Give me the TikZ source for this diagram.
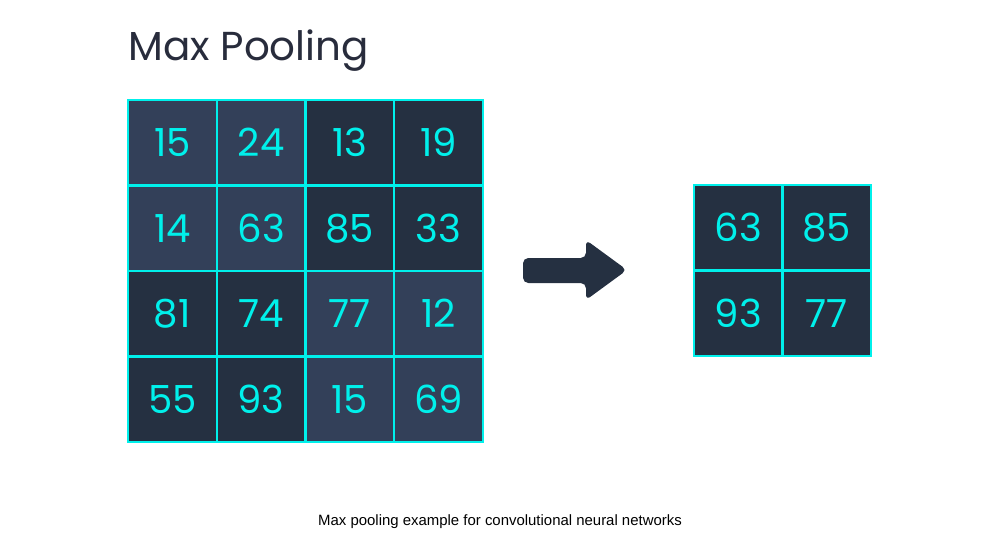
\documentclass[tikz,border=0pt]{standalone}
\usepackage{fontspec}
\setmainfont{Poppins}
\newfontfamily\capfont{Liberation Sans}
\usetikzlibrary{positioning}
\definecolor{pldark}{RGB}{37,48,65}
\definecolor{pllight}{RGB}{51,64,89}
\definecolor{plcyan}{RGB}{0,240,235}
\definecolor{pltitle}{RGB}{40,44,60}

\begin{document}
\begin{tikzpicture}[
  cell/.style={draw=plcyan, line width=1.3pt, minimum width=1.775cm, minimum height=1.71cm, inner sep=0pt, text=plcyan, font=\fontsize{22}{22}\selectfont},
  ocell/.style={cell, minimum width=1.77cm}]
\useasboundingbox (0,0) rectangle (19.78,-11.02);
% Title
\node[anchor=base west, text=pltitle, font=\fontsize{23}{23}\selectfont, inner sep=0pt] (title) at (2.56,-1.2) {Max Pooling};
% Input grid
\foreach \v [count=\i from 0] in {15,24,13,19,14,63,85,33,81,74,77,12,55,93,15,69} {
  \pgfmathtruncatemacro{\r}{int(\i/4)}
  \pgfmathtruncatemacro{\c}{mod(\i,4)}
  \pgfmathtruncatemacro{\lite}{(\r<2 && \c<2) || (\r>1 && \c>1) ? 1 : 0}
  \ifnum\lite=1 \def\fc{pllight}\else\def\fc{pldark}\fi
  \node[cell, fill=\fc] (in\r\c) at (2.56+0.8875+1.775*\c, -2.0-0.855-1.71*\r) {\v};
}
% Output grid
\foreach \v [count=\i from 0] in {63,85,93,77} {
  \pgfmathtruncatemacro{\r}{int(\i/2)}
  \pgfmathtruncatemacro{\c}{mod(\i,2)}
  \node[ocell, fill=pldark] (out\r\c) at (13.88+0.885+1.77*\c, -3.7-0.855-1.71*\r) {\v};
}
% Arrow
\fill[pldark, rounded corners=3pt] (10.46,-5.16) -- (11.72,-5.16) -- (11.72,-4.8)
  -- (12.54,-5.4) -- (11.72,-6.0) -- (11.72,-5.66) -- (10.46,-5.66) -- cycle;
% Caption
\node[font=\capfont\fontsize{8.5}{8.5}\selectfont] (caption) at (10.0,-10.44) {Max pooling example for convolutional neural networks};
\end{tikzpicture}
\end{document}
